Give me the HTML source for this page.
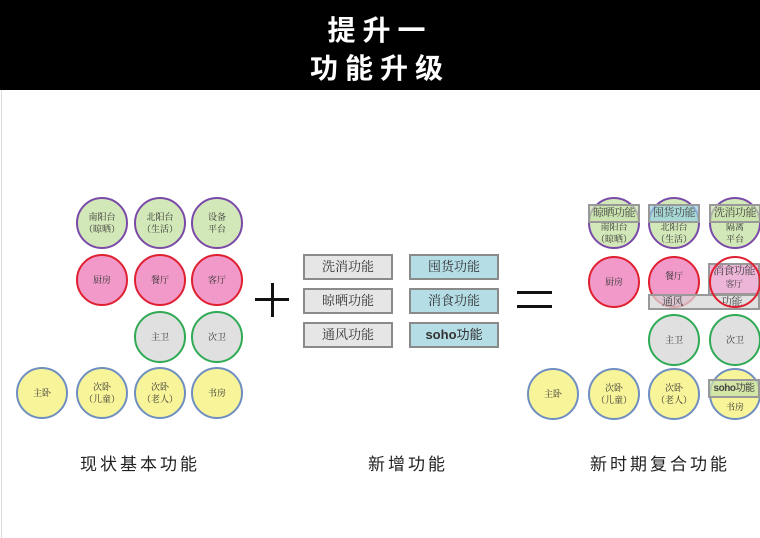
<!DOCTYPE html><html><head><meta charset="utf-8"><style>
body{margin:0;width:760px;height:538px;background:#fff;position:relative;overflow:hidden;font-family:"Liberation Serif","Noto Serif CJK SC",serif}
.hd{position:absolute;left:0;top:0;width:760px;height:90px;background:#000;color:#fff;text-align:center;font-size:28px;letter-spacing:7px;line-height:38px;padding-top:10px;box-sizing:border-box;font-family:"Noto Sans CJK SC",sans-serif;font-weight:bold}
.c{position:absolute;width:48px;height:48px;border-radius:50%;border:2px solid;display:flex;align-items:center;justify-content:center;text-align:center;font-size:9px;line-height:12px;color:#333;box-sizing:content-box}
.p{background:#d3e8b8;border-color:#7a4aa8}.r{background:#f19ac9;border-color:#e02030}.g{background:#e0e0e0;border-color:#2faa55}.y{background:#f8f49a;border-color:#6f8fc0}
.b{position:absolute;height:22px;border:2px solid #8a8a8a;font-size:13px;text-align:center;line-height:22px;color:#333;box-sizing:content-box}
.t{position:absolute;border:2px solid #999;font-size:11px;text-align:center;color:#444;box-sizing:border-box;white-space:nowrap;overflow:hidden;letter-spacing:-0.5px}
.lab{position:absolute;top:450px;font-size:17px;letter-spacing:3px;color:#222;font-family:"Noto Sans CJK SC",sans-serif}
</style></head><body>
<div class="hd">提升一<br>功能升级</div>
<div style="position:absolute;left:1px;top:90px;width:1px;height:448px;background:#ddd"></div>
<div class="c p" style="left:76px;top:197px">南阳台<br>（晾晒）</div>
<div class="c p" style="left:134px;top:197px">北阳台<br>（生活）</div>
<div class="c p" style="left:191px;top:197px">设备<br>平台</div>
<div class="c r" style="left:76px;top:254px">厨房</div>
<div class="c r" style="left:134px;top:254px">餐厅</div>
<div class="c r" style="left:191px;top:254px">客厅</div>
<div class="c g" style="left:134px;top:311px">主卫</div>
<div class="c g" style="left:191px;top:311px">次卫</div>
<div class="c y" style="left:16px;top:367px">主卧</div>
<div class="c y" style="left:76px;top:367px">次卧<br>（儿童）</div>
<div class="c y" style="left:134px;top:367px">次卧<br>（老人）</div>
<div class="c y" style="left:191px;top:367px">书房</div>
<div style="position:absolute;left:255px;top:298px;width:34px;height:3px;background:#111"></div>
<div style="position:absolute;left:271px;top:283px;width:3px;height:34px;background:#111"></div>
<div class="b" style="left:303px;top:254px;width:86px;background:#e6e6e6">洗消功能</div>
<div class="b" style="left:303px;top:288px;width:86px;background:#e6e6e6">晾晒功能</div>
<div class="b" style="left:303px;top:322px;width:86px;background:#e6e6e6">通风功能</div>
<div class="b" style="left:409px;top:254px;width:86px;background:#b5dde6">囤货功能</div>
<div class="b" style="left:409px;top:288px;width:86px;background:#b5dde6">消食功能</div>
<div class="b" style="left:409px;top:322px;width:86px;background:#b5dde6;font-family:'Liberation Sans','Noto Sans CJK SC',sans-serif"><b>soho</b>功能</div>
<div style="position:absolute;left:517px;top:291px;width:35px;height:3px;background:#111"></div>
<div style="position:absolute;left:517px;top:305px;width:35px;height:3px;background:#111"></div>
<div class="c p" style="left:588px;top:197px"><span style="margin-top:20px">南阳台<br>（晾晒）</span></div>
<div class="c p" style="left:648px;top:197px"><span style="margin-top:20px">北阳台<br>（生活）</span></div>
<div class="c p" style="left:709px;top:197px"><span style="margin-top:20px">隔离<br>平台</span></div>
<div class="t" style="left:588px;top:204px;width:52px;height:19px;line-height:15px;background:rgba(200,225,170,.7)">晾晒功能</div>
<div class="t" style="left:648px;top:204px;width:52px;height:19px;line-height:15px;background:rgba(150,210,225,.7)">囤货功能</div>
<div class="t" style="left:709px;top:204px;width:52px;height:19px;line-height:15px;background:rgba(200,225,170,.7)">洗消功能</div>
<div class="c r" style="left:588px;top:256px">厨房</div>
<div class="c r" style="left:648px;top:256px"><span style="margin-top:-12px">餐厅</span></div>
<div class="t" style="left:648px;top:294px;width:112px;height:16px;line-height:12px;background:rgba(215,215,215,.75);text-align:left;padding-left:12px">通风<span style="margin-left:38px">功能</span></div>
<div class="t" style="left:708px;top:263px;width:52px;height:32px;line-height:13px;background:rgba(230,150,200,.7)">消食功能<br><span style="font-size:9px">客厅</span></div>
<div class="c r" style="left:709px;top:256px;background:transparent"></div>
<div class="c g" style="left:648px;top:314px">主卫</div>
<div class="c g" style="left:709px;top:314px">次卫</div>
<div class="c y" style="left:527px;top:368px">主卧</div>
<div class="c y" style="left:588px;top:368px">次卧<br>（儿童）</div>
<div class="c y" style="left:648px;top:368px">次卧<br>（老人）</div>
<div class="c y" style="left:709px;top:368px"><span style="margin-top:26px">书房</span></div>
<div class="t" style="left:708px;top:379px;width:52px;height:19px;line-height:15px;font-size:10px;background:rgba(200,225,170,.75);font-family:'Liberation Sans','Noto Sans CJK SC',sans-serif"><b>soho</b>功能</div>
<div class="lab" style="left:80px">现状基本功能</div>
<div class="lab" style="left:368px">新增功能</div>
<div class="lab" style="left:590px">新时期复合功能</div>
</body></html>
